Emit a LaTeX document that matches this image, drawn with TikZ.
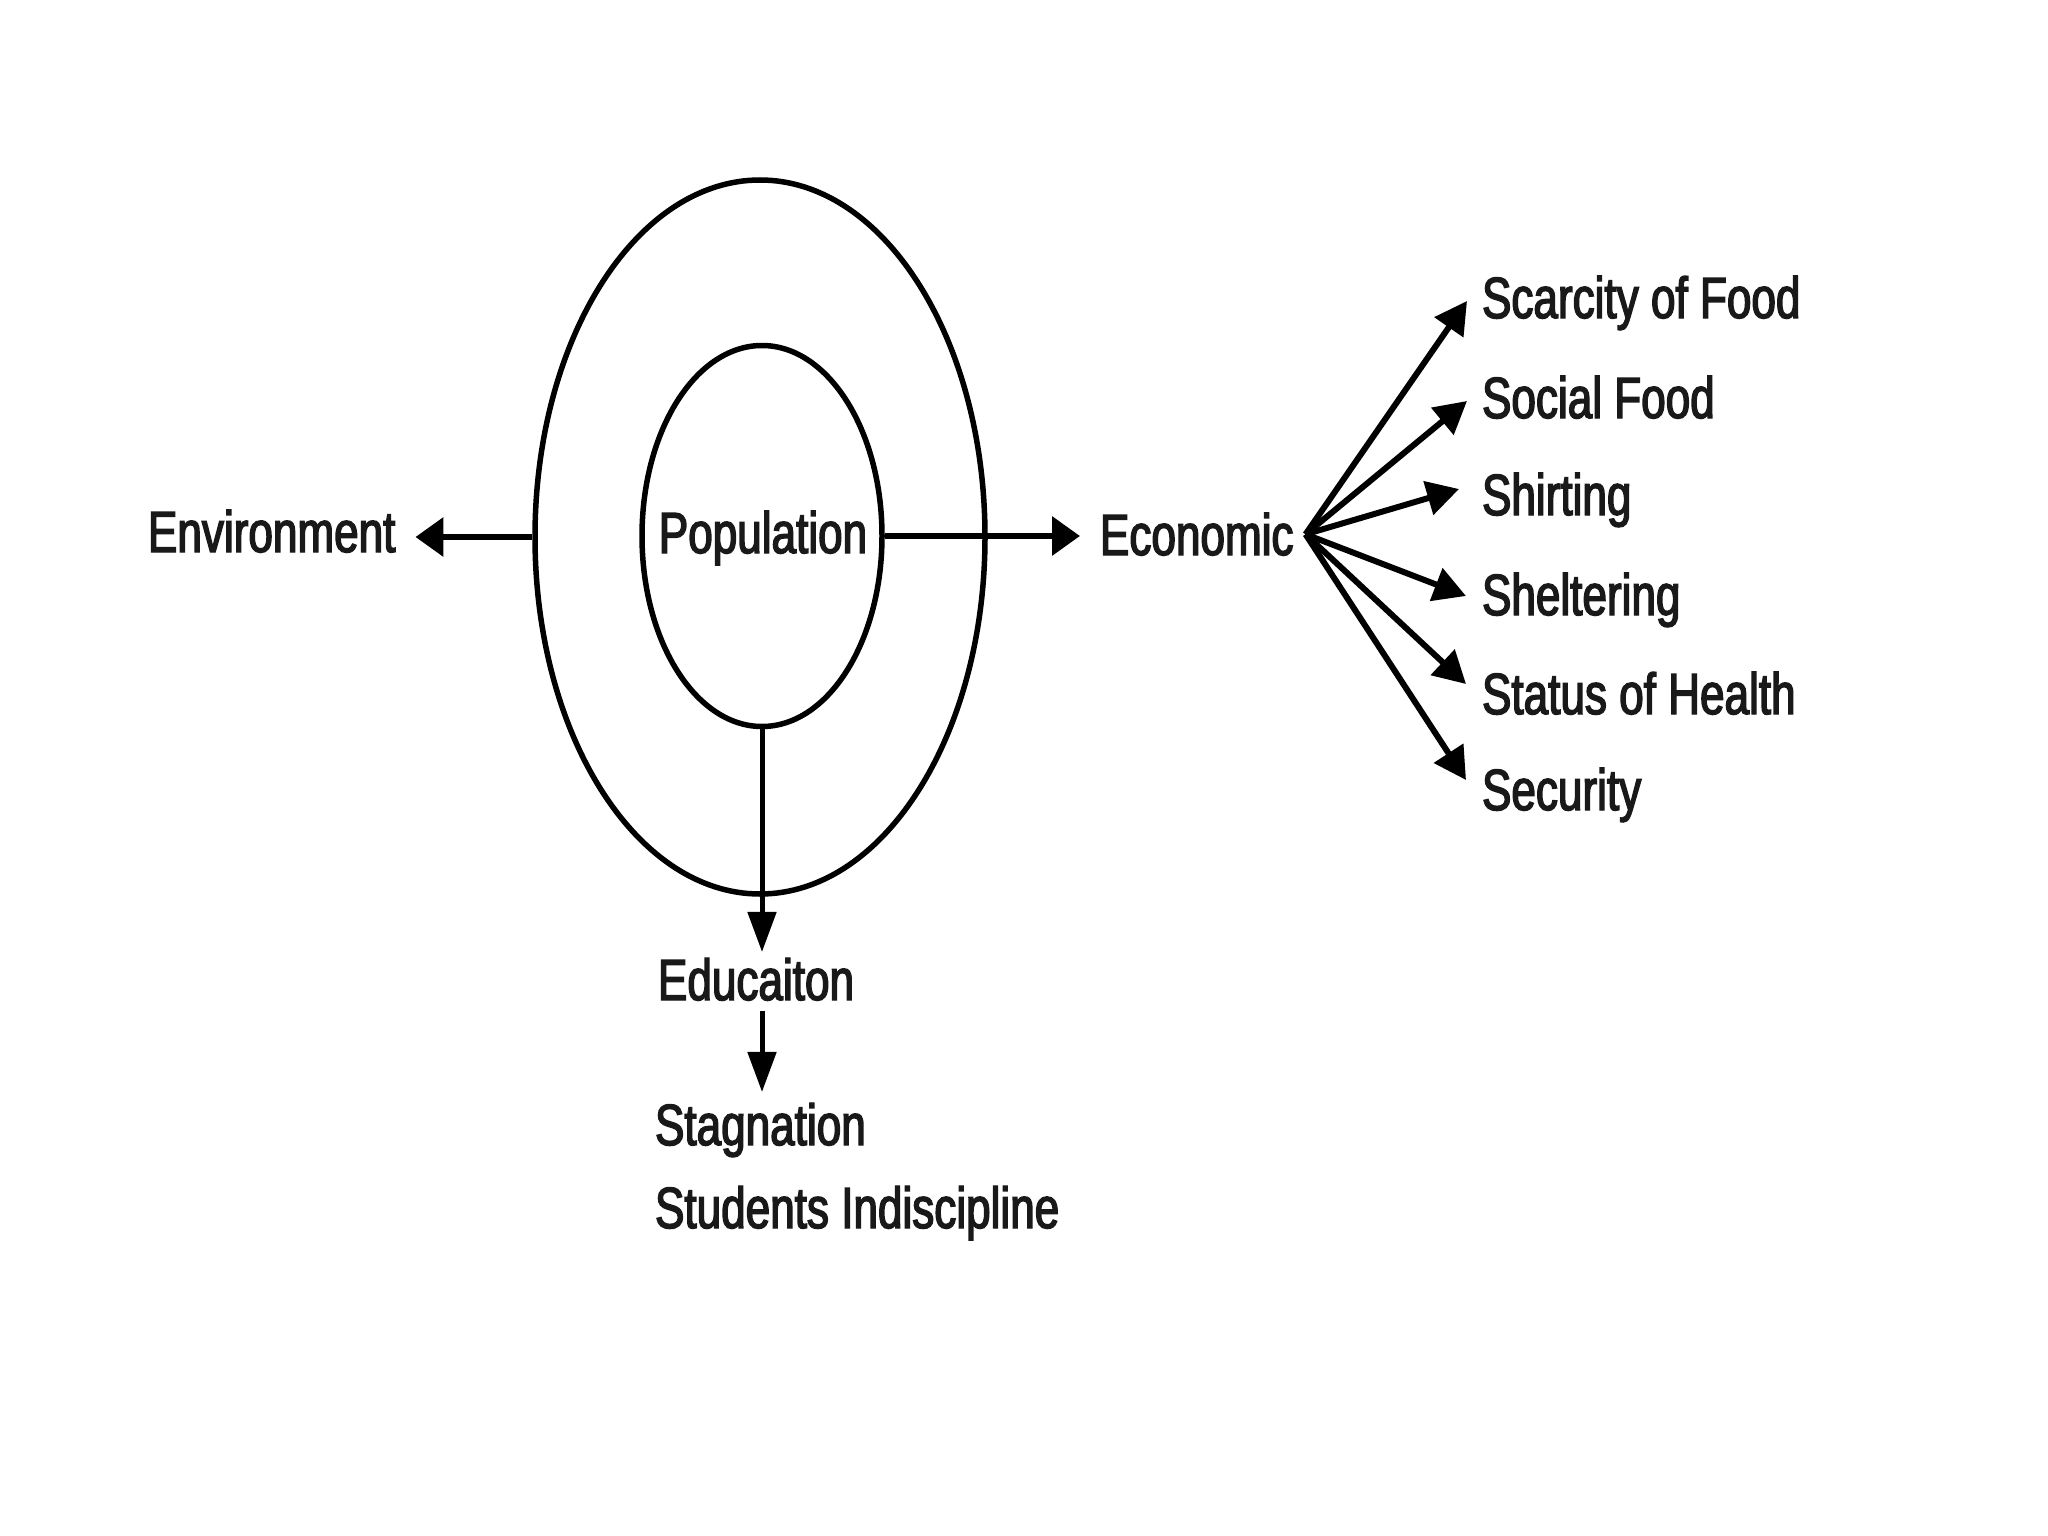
\documentclass[tikz,border=0pt]{standalone}
\usepackage{fontspec}
\setmainfont{Liberation Sans}[FakeStretch=0.76,FakeBold=2.5]
\usetikzlibrary{shapes.geometric,arrows.meta}
\begin{document}
\begin{tikzpicture}[x=1pt,y=-1pt,
  lbl/.style={inner sep=0pt, outer sep=0pt, anchor=base west, font=\fontsize{58pt}{60pt}\selectfont, text=black!90},
  ring/.style={draw, ellipse, line width=5.5pt, inner sep=0pt},
  harr/.style={line width=6.5pt, -{Triangle[length=28pt,width=38pt]}},
  varr/.style={line width=5pt, -{Triangle[length=40pt,width=28pt]}},
  farr/.style={line width=6pt, -{Triangle[length=32pt,width=34pt]}},
]
\useasboundingbox[fill=white] (0,0) rectangle (2048,1536);
% rings
\node[ring, minimum width=450pt, minimum height=714pt] (outer) at (760,537) {};
\node[ring, minimum width=240pt, minimum height=381pt] (inner) at (762,536) {};
\node[lbl, anchor=base] (poptext) at (763,553) {Population};
% labels
\node[lbl] (env) at (148,552) {Environment};
\node[lbl] (eco) at (1100,555) {Economic};
\node[lbl] (edu) at (658,1000) {Educaiton};
\node[lbl] (stag) at (655,1145) {Stagnation};
\node[lbl] (stud) at (655,1228) {Students Indiscipline};
\node[lbl] (scar) at (1482,318) {Scarcity of Food};
\node[lbl] (soc) at (1482,418) {Social Food};
\node[lbl] (shirt) at (1482,515) {Shirting};
\node[lbl] (shelt) at (1482,615) {Sheltering};
\node[lbl] (stat) at (1482,714) {Status of Health};
\node[lbl] (sec) at (1482,810) {Security};
% horizontal arrows
\draw[harr] (outer.west) -- ([xshift=20pt]env.east |- outer.west);
\coordinate (ecoIn) at ([xshift=-20pt]eco.west);
\draw[harr] (inner.east) -- (ecoIn |- inner.east);
% fan
\coordinate (hub) at ([xshift=12pt]eco.east);
\foreach \n/\dx/\dy in {scar/-15/17, soc/-15/17, shirt/-23/26, shelt/-16/19, stat/-16/30, sec/-16/30}
  \draw[farr] (hub) -- ([xshift=\dx pt, yshift=\dy pt]\n.base west);
% vertical arrows
\coordinate (eduTop) at ([yshift=6pt]edu.north);
\draw[varr] (inner.south) -- (inner.south |- eduTop);
\coordinate (e1) at ([yshift=-10pt]edu.south);
\coordinate (s1) at ([yshift=11pt]stag.north);
\draw[varr] (inner.south |- e1) -- (inner.south |- s1);
\end{tikzpicture}
\end{document}
